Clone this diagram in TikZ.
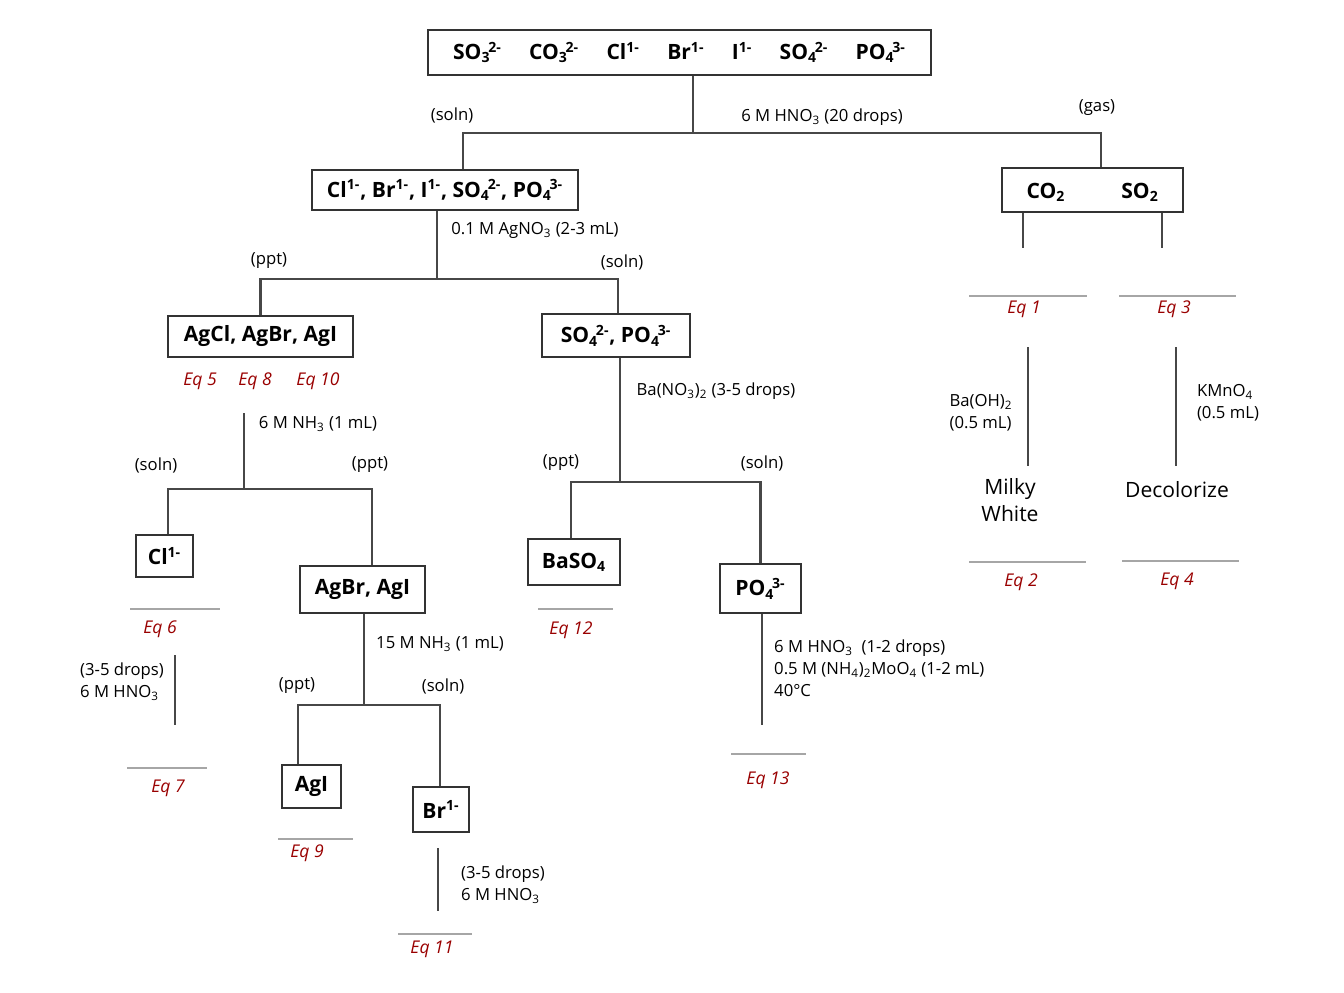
\documentclass[tikz,border=0pt]{standalone}
\usepackage{fontspec}
\setmainfont{Open Sans}
\newcommand\sps[2]{\textsubscript{#1}\kern-0.1em\textsuperscript{#2}}
\newcommand\sbs[1]{\textsubscript{#1}}
\newcommand\spp[1]{\textsuperscript{#1}}
\newcommand\gp{\hspace{1.3em}}
\begin{document}
\begin{tikzpicture}[x=0.02cm,y=-0.02cm,
 ln/.style={draw=black!72,line width=0.5mm},
 gl/.style={draw=black!35,line width=0.25mm},
 bx/.style={draw=black!80,line width=0.4mm,font=\fontsize{12}{14}\selectfont\bfseries,inner sep=0pt},
 tx/.style={font=\fontsize{12}{14}\selectfont\bfseries,inner sep=0pt},
 lb/.style={font=\fontsize{9.5}{12.5}\selectfont},
 eq/.style={font=\fontsize{10}{12}\selectfont\itshape,text=red!60!black},
 big/.style={font=\fontsize{12}{15}\selectfont}]
\useasboundingbox (0,0) rectangle (1344,992);
% boxes
\node[bx,minimum width=503*0.02cm,minimum height=45*0.02cm] (top) at (679.5,52.5) {SO\sps{3}{2-}\gp CO\sps{3}{2-}\gp Cl\spp{1-}\gp Br\spp{1-}\gp I\spp{1-}\gp SO\sps{4}{2-}\gp PO\sps{4}{3-}};
\node[bx,minimum width=266*0.02cm,minimum height=40*0.02cm] (b2) at (445,190) {Cl\spp{1-}, Br\spp{1-}, I\spp{1-}, SO\sps{4}{2-}, PO\sps{4}{3-}};
\node[bx,minimum width=181*0.02cm,minimum height=44*0.02cm] (gas) at (1092.5,190) {};
\node[tx] (co2) at (1046,192) {CO\sbs{2}};
\node[tx] (so2) at (1140,192) {SO\sbs{2}};
\node[bx,minimum width=185*0.02cm,minimum height=41*0.02cm] (agx) at (260.5,336.5) {AgCl, AgBr, AgI};
\node[bx,minimum width=148*0.02cm,minimum height=43*0.02cm] (sp) at (616,335.5) {SO\sps{4}{2-}, PO\sps{4}{3-}};
\node[bx,minimum width=57*0.02cm,minimum height=42*0.02cm] (cl) at (164.5,556) {Cl\spp{1-}};
\node[bx,minimum width=125*0.02cm,minimum height=47*0.02cm] (abi) at (362.5,589.5) {AgBr, AgI};
\node[bx,minimum width=59*0.02cm,minimum height=43*0.02cm] (agi) at (311.5,786.5) {AgI};
\node[bx,minimum width=56*0.02cm,minimum height=45*0.02cm] (br) at (441,809.5) {Br\spp{1-}};
\node[bx,minimum width=92*0.02cm,minimum height=46*0.02cm] (ba) at (574,562) {BaSO\sbs{4}};
\node[bx,minimum width=81*0.02cm,minimum height=49*0.02cm] (po) at (760.5,588.5) {PO\sps{4}{3-}};
% coordinates
\coordinate (j1) at (693,133);
\coordinate (j2) at (437,279);
\coordinate (j3) at (244,489);
\coordinate (j4) at (364,705);
\coordinate (j5) at (620,482);
% tree connectors
\draw[ln] (top.south -| j1) -- (j1);
\draw[ln] (b2.north -| 463,0) |- (j1) -| (gas.north -| 1101,0);
\draw[ln] (b2.south -| j2) -- (j2);
\draw[ln] (agx.north) |- (j2) -| (sp.north -| 618,0);
\coordinate (t3) at (244,413);
\draw[ln] (t3) -- (j3);
\draw[ln] (cl.north -| 168,0) |- (j3) -| (abi.north -| 372,0);
\draw[ln] (abi.south -| j4) -- (j4);
\draw[ln] (agi.north -| 298,0) |- (j4) -| (br.north -| 440,0);
\draw[ln] (sp.south -| j5) -- (j5);
\draw[ln] (ba.north -| 571,0) |- (j5) -| (po.north);
% gas lines
\coordinate (g1) at (1023,248); \coordinate (g2) at (1162,248);
\draw[ln] (gas.south -| g1) -- (g1);
\draw[ln] (gas.south -| g2) -- (g2);
\coordinate (v1a) at (1028,347); \coordinate (v1b) at (1028,466);
\coordinate (v2a) at (1176,347); \coordinate (v2b) at (1176,466);
\draw[ln] (v1a) -- (v1b); \draw[ln] (v2a) -- (v2b);
\coordinate (v3a) at (175,655); \coordinate (v3b) at (175,725);
\draw[ln] (v3a) -- (v3b);
\coordinate (v4a) at (438,848); \coordinate (v4b) at (438,911);
\draw[ln] (v4a) -- (v4b);
\coordinate (v5b) at (762,725);
\draw[ln] (po.south -| v5b) -- (v5b);
% grey separators
\draw[gl] (969,296) -- (1087,296);
\draw[gl] (1119,296) -- (1236,296);
\draw[gl] (969,562) -- (1086,562);
\draw[gl] (1122,561) -- (1239,561);
\draw[gl] (130,609) -- (220,609);
\draw[gl] (127,768) -- (207,768);
\draw[gl] (278,839) -- (353,839);
\draw[gl] (398,934) -- (472,934);
\draw[gl] (538,609) -- (613,609);
\draw[gl] (731,754) -- (806,754);
% labels
\node[lb] (l1) at (452,115) {(soln)};
\node[lb] (l2) at (822,117) {6 M HNO\sbs{3} (20 drops)};
\node[lb] (l3) at (1097,108) {(gas)};
\node[lb] (l4) at (535,230) {0.1 M AgNO\sbs{3} (2-3 mL)};
\node[lb] (l5) at (269,261) {(ppt)};
\node[lb] (l6) at (622,262) {(soln)};
\node[lb] (l7) at (318,424) {6 M NH\sbs{3} (1 mL)};
\node[lb] (l8) at (156,465) {(soln)};
\node[lb] (l9) at (370,465) {(ppt)};
\node[lb,align=left] (l10) at (122,682) {(3-5 drops)\\6 M HNO\sbs{3}};
\node[lb] (l11) at (440,644) {15 M NH\sbs{3} (1 mL)};
\node[lb] (l12) at (297,686) {(ppt)};
\node[lb] (l13) at (443,686) {(soln)};
\node[lb,align=left] (l14) at (503,885) {(3-5 drops)\\6 M HNO\sbs{3}};
\node[lb] (l15) at (716,391) {Ba(NO\sbs{3})\sbs{2} (3-5 drops)};
\node[lb] (l16) at (561,463) {(ppt)};
\node[lb] (l17) at (762,463) {(soln)};
\node[lb,align=left,anchor=north west] (l18) at (768,634) {6 M HNO\sbs{3} \ (1-2 drops)\\0.5 M (NH\sbs{4})\sbs{2}MoO\sbs{4} (1-2 mL)\\40°C};
\node[lb,align=left] (l19) at (981,413) {Ba(OH)\sbs{2}\\(0.5 mL)};
\node[lb,align=left] (l20) at (1228,403) {KMnO\sbs{4}\\(0.5 mL)};
\node[big,align=center] (l21) at (1010,500) {Milky\\White};
\node[big] (l22) at (1177,490) {Decolorize};
% equations
\node[eq] (e1) at (1024,309) {Eq 1};
\node[eq] (e3) at (1174,309) {Eq 3};
\node[eq] (e2) at (1021,582) {Eq 2};
\node[eq] (e4) at (1177,581) {Eq 4};
\node[eq] (e5) at (200,381) {Eq 5};
\node[eq] (e8) at (255,381) {Eq 8};
\node[eq] (e10) at (318,381) {Eq 10};
\node[eq] (e6) at (160,629) {Eq 6};
\node[eq] (e7) at (168,788) {Eq 7};
\node[eq] (e9) at (307,853) {Eq 9};
\node[eq] (e11) at (432,949) {Eq 11};
\node[eq] (e12) at (571,630) {Eq 12};
\node[eq] (e13) at (768,780) {Eq 13};
\end{tikzpicture}
\end{document}
